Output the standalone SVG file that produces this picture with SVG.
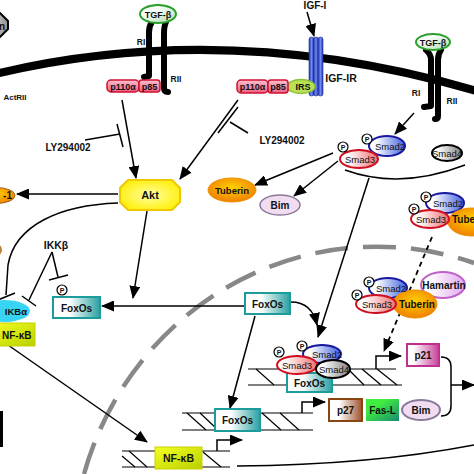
<svg xmlns="http://www.w3.org/2000/svg" width="474" height="474" viewBox="0 0 474 474">
<style>
.t{font-family:"Liberation Sans",Arial,sans-serif;font-weight:bold;text-anchor:middle;fill:#111}
.s{font-family:"Liberation Sans",Arial,sans-serif;font-weight:normal;text-anchor:middle;fill:#111;font-size:9.5px}
.ln{fill:none;stroke:#000;stroke-width:1.5}
.ar{fill:none;stroke:#000;stroke-width:1.5;marker-end:url(#ah)}
.rec{fill:none;stroke:#000;stroke-width:6;stroke-linejoin:round;stroke-linecap:round}
.dna{fill:none;stroke:#000;stroke-width:1.2}
.p{fill:#fff;stroke:#000;stroke-width:1.2}
.s2{fill:url(#gS2);stroke:#1a1aa0;stroke-width:2}
.s3{fill:url(#gS3);stroke:#d01020;stroke-width:2}
.s4{fill:url(#gS4);stroke:#000;stroke-width:2}
.fox{fill:url(#gFox);stroke:#1c9c9c;stroke-width:2}
.tub{fill:url(#gOr);stroke:#f09000;stroke-width:1}
.pk{fill:url(#gPk);stroke:#d01030;stroke-width:1.5}
</style>
<defs>
<marker id="ah" markerUnits="userSpaceOnUse" markerWidth="13" markerHeight="11" viewBox="0 0 13 11" refX="12" refY="5.5" orient="auto"><path d="M0,0 L13,5.5 L0,11 z" fill="#000"/></marker>
<linearGradient id="gS2" x1="0" y1="0" x2="1" y2="0"><stop offset="0.2" stop-color="#fff"/><stop offset="1" stop-color="#4060e0"/></linearGradient>
<linearGradient id="gS3" x1="0" y1="0" x2="1" y2="0"><stop offset="0.2" stop-color="#fff"/><stop offset="1" stop-color="#f07070"/></linearGradient>
<linearGradient id="gS4" x1="0" y1="0" x2="1" y2="0"><stop offset="0.2" stop-color="#fff"/><stop offset="1" stop-color="#808080"/></linearGradient>
<linearGradient id="gFox" x1="0" y1="0" x2="1" y2="0"><stop offset="0.35" stop-color="#fff"/><stop offset="1" stop-color="#2aa0a0"/></linearGradient>
<radialGradient id="gOr" cx="0.5" cy="0.4" r="0.6"><stop offset="0" stop-color="#ffd000"/><stop offset="1" stop-color="#f08000"/></radialGradient>
<radialGradient id="gAkt" cx="0.5" cy="0.5" r="0.6"><stop offset="0" stop-color="#ffffa0"/><stop offset="1" stop-color="#ffee00"/></radialGradient>
<linearGradient id="gNF" x1="0" y1="0" x2="1" y2="1"><stop offset="0" stop-color="#f4ff20"/><stop offset="1" stop-color="#b8d000"/></linearGradient>
<linearGradient id="gP21" x1="0" y1="0" x2="1" y2="0"><stop offset="0.2" stop-color="#fff"/><stop offset="1" stop-color="#c8409a"/></linearGradient>
<linearGradient id="gP27" x1="0" y1="0" x2="1" y2="0"><stop offset="0.3" stop-color="#fff"/><stop offset="1" stop-color="#a0522d"/></linearGradient>
<linearGradient id="gFas" x1="0" y1="0" x2="1" y2="1"><stop offset="0.3" stop-color="#40ee40"/><stop offset="1" stop-color="#1a8a70"/></linearGradient>
<linearGradient id="gHam" x1="0" y1="0" x2="1" y2="0"><stop offset="0.2" stop-color="#fff"/><stop offset="1" stop-color="#e0a8f0"/></linearGradient>
<linearGradient id="gTGF" x1="0" y1="0" x2="1" y2="1"><stop offset="0.3" stop-color="#fff"/><stop offset="1" stop-color="#a8dca8"/></linearGradient>
<linearGradient id="gIGF" x1="0" y1="0" x2="1" y2="0"><stop offset="0" stop-color="#2038b0"/><stop offset="0.5" stop-color="#7088f0"/><stop offset="1" stop-color="#2038b0"/></linearGradient>
<linearGradient id="gPk" x1="0" y1="0" x2="0" y2="1"><stop offset="0" stop-color="#fcc0d0"/><stop offset="1" stop-color="#f06080"/></linearGradient>
<linearGradient id="gHex" x1="0" y1="0" x2="1" y2="0"><stop offset="0" stop-color="#fff"/><stop offset="1" stop-color="#909090"/></linearGradient>
</defs>
<rect width="474" height="474" fill="#fff"/>

<!-- nuclear envelope -->
<path id="nucleus" d="M84,474 A305 315 0 0 1 474,263" fill="none" stroke="#888" stroke-width="4.5" stroke-dasharray="33 15"/>
<!-- plasma membrane -->
<path id="membrane" d="M-5,74 Q230,18 480,92" fill="none" stroke="#000" stroke-width="8"/>
<path d="M237,466 Q370,465 474,445" fill="none" stroke="#000" stroke-width="1.5"/>

<g id="connectors">
<line class="ar" x1="307" y1="12" x2="314" y2="36"/>
<line class="ar" x1="122" y1="100" x2="136" y2="178"/>
<line class="ln" x1="117" y1="124" x2="123" y2="147"/>
<line class="ln" x1="85" y1="140" x2="120" y2="134"/>
<line class="ar" x1="238" y1="100" x2="180" y2="179"/>
<line class="ln" x1="218" y1="133" x2="238" y2="107"/>
<line class="ln" x1="230" y1="122" x2="248" y2="133"/>
<line class="ar" x1="414" y1="113" x2="395" y2="134"/>
<path class="ln" d="M345,170 Q400,190 465,165"/>
<line class="ar" x1="333" y1="153" x2="255" y2="185"/>
<line class="ar" x1="338" y1="161" x2="294" y2="196"/>
<line class="ar" x1="369" y1="178" x2="318" y2="337"/>
<line class="ar" x1="118" y1="194" x2="17" y2="194"/>
<path class="ln" d="M118,203 C60,205 15,225 8,265 L6,295"/>
<line class="ln" x1="-2" y1="300" x2="15" y2="293"/>
<line class="ln" x1="52" y1="252" x2="58" y2="277"/>
<line class="ln" x1="49" y1="280" x2="68" y2="275"/>
<line class="ln" x1="52" y1="252" x2="29" y2="300"/>
<line class="ln" x1="22" y1="296" x2="36" y2="306"/>
<line class="ar" x1="147" y1="211" x2="133" y2="298"/>
<line class="ar" x1="245" y1="306" x2="102" y2="306"/>
<path class="ar" d="M291,302 Q312,302 317,325"/>
<line class="ar" x1="255" y1="316" x2="230" y2="408"/>
<line class="ar" x1="8" y1="345" x2="147" y2="442"/>
<line x1="432" y1="237" x2="384" y2="351" fill="none" stroke="#000" stroke-width="1.8" stroke-dasharray="5 4" marker-end="url(#ah)"/>
<!-- DNA upper -->
<line class="dna" x1="248" y1="369" x2="396" y2="369"/>
<line class="dna" x1="248" y1="385" x2="402" y2="385"/>
<line class="dna" x1="256" y1="369" x2="274" y2="385"/>
<line class="dna" x1="348" y1="369" x2="364" y2="385"/>
<line class="dna" x1="362" y1="369" x2="381" y2="385"/>
<line class="dna" x1="377" y1="369" x2="397" y2="385"/>
<path class="ar" d="M376,369 L376,356 L401,356"/>
<!-- DNA lower -->
<line class="dna" x1="182" y1="413" x2="313" y2="413"/>
<line class="dna" x1="182" y1="430" x2="313" y2="430"/>
<line class="dna" x1="187" y1="413" x2="206" y2="430"/>
<line class="dna" x1="200" y1="413" x2="218" y2="430"/>
<line class="dna" x1="262" y1="413" x2="281" y2="430"/>
<line class="dna" x1="280" y1="413" x2="299" y2="430"/>
<path class="ar" d="M302,413 L302,402 L325,402"/>
<!-- DNA NF-kB -->
<line class="dna" x1="122" y1="451" x2="230" y2="451"/>
<line class="dna" x1="122" y1="467" x2="230" y2="467"/>
<line class="dna" x1="122" y1="456" x2="135" y2="467"/>
<line class="dna" x1="129" y1="451" x2="147" y2="467"/>
<line class="dna" x1="203" y1="452" x2="221" y2="467"/>
<path class="ar" d="M217,451 L217,440 L242,440"/>
<path class="ln" d="M441,357 Q451,357 451,367 L451,406 Q451,416 441,416"/>
<line class="ar" x1="451" y1="385" x2="474" y2="385"/>
</g>

<g id="activin">
<polygon points="-20,13 0,13 8,21 8,29 0,37 -20,37" fill="url(#gHex)" stroke="#000" stroke-width="2"/>
<text class="t" x="5" y="30" font-size="10" style="text-anchor:end">n</text>
</g>
<text class="t" x="15" y="100" font-size="8">ActRII</text>

<g id="tgfb-receptor-left">
<path class="rec" d="M152,22 Q149,26 149,32 L149,76 L144,77"/>
<path class="rec" d="M166,22 Q164,26 164,34 L164,88 Q164,92 168,92"/>
<ellipse cx="158" cy="14" rx="18" ry="9" fill="url(#gTGF)" stroke="#2aa02a" stroke-width="2"/>
<text class="t" x="158" y="17.5" font-size="9">TGF-β</text>
<text class="t" x="141" y="45" font-size="8.5">RI</text>
<text class="t" x="176" y="82" font-size="8.5">RII</text>
</g>
<g id="pi3k-left">
<rect x="107" y="80" width="32" height="12" rx="4" class="pk"/>
<rect x="139" y="80" width="21" height="12" rx="3" class="pk"/>
<text class="t" x="123" y="89.5" font-size="9">p110α</text>
<text class="t" x="149.5" y="89.5" font-size="9">p85</text>
</g>
<text class="t" x="68" y="151" font-size="10">LY294002</text>

<g id="igf-receptor">
<rect x="309" y="37" width="5" height="59" rx="2.5" fill="url(#gIGF)" stroke="#1a2a90" stroke-width="0.6"/>
<rect x="313.5" y="37" width="5" height="59" rx="2.5" fill="url(#gIGF)" stroke="#1a2a90" stroke-width="0.6"/>
<rect x="318" y="37" width="5" height="59" rx="2.5" fill="url(#gIGF)" stroke="#1a2a90" stroke-width="0.6"/>
<text class="t" x="315" y="9" font-size="10">IGF-I</text>
<text class="t" x="341" y="82" font-size="10.5">IGF-IR</text>
</g>
<g id="pi3k-right">
<ellipse cx="301" cy="86.5" rx="14" ry="7" fill="#b8e050" stroke="#8cc040" stroke-width="1.5"/>
<rect x="237" y="80" width="31" height="13" rx="4" class="pk"/>
<rect x="268" y="80" width="20" height="13" rx="3" class="pk"/>
<text class="t" x="252.5" y="90" font-size="9">p110α</text>
<text class="t" x="278" y="90" font-size="9">p85</text>
<text class="t" x="303" y="90" font-size="9">IRS</text>
</g>
<text class="t" x="282" y="144" font-size="10">LY294002</text>

<g id="tgfb-receptor-right">
<path class="rec" d="M426,50 Q431,54 431,60 L431,106 L424,107"/>
<path class="rec" d="M441,50 Q438,54 438,60 L438,116 Q438,119 435,119"/>
<ellipse cx="433" cy="42" rx="17" ry="8" fill="url(#gTGF)" stroke="#2aa02a" stroke-width="2"/>
<text class="t" x="433" y="45.5" font-size="9">TGF-β</text>
<text class="t" x="416" y="96" font-size="8.5">RI</text>
<text class="t" x="452" y="104" font-size="8.5">RII</text>
</g>

<g id="smad-cyto">
<ellipse cx="387" cy="146" rx="18" ry="10" class="s2"/>
<ellipse cx="359" cy="159" rx="19" ry="9" class="s3"/>
<circle cx="343" cy="147" r="5" class="p"/>
<circle cx="367" cy="139" r="5" class="p"/>
<text class="t" x="343" y="150" font-size="7">P</text>
<text class="t" x="367" y="142" font-size="7">P</text>
<text class="s" x="390" y="149.5">Smad2</text>
<text class="s" x="360" y="162.5">Smad3</text>
</g>
<g id="smad4-cyto">
<ellipse cx="447" cy="153" rx="15" ry="8" class="s4"/>
<text class="s" x="447" y="156.5">Smad4</text>
</g>

<g id="akt">
<polygon points="128,180 172,180 180,188 180,202 172,210 128,210 120,202 120,188" fill="url(#gAkt)" stroke="#f0c800" stroke-width="2"/>
<text class="t" x="150" y="199" font-size="11">Akt</text>
</g>
<g id="tuberin">
<ellipse cx="232" cy="190" rx="24" ry="12" class="tub"/>
<text class="t" x="232" y="193.5" font-size="9.5">Tuberin</text>
</g>
<g id="bim-cyto">
<ellipse cx="280" cy="205" rx="20" ry="10" fill="#f2dcf2" stroke="#8a7a9a" stroke-width="1.5"/>
<text class="t" x="280" y="209" font-size="10">Bim</text>
</g>
<g id="mdm">
<ellipse cx="-4" cy="195.5" rx="19" ry="8" fill="url(#gOr)" stroke="#a06020" stroke-width="1"/>
<text class="t" x="12" y="199" font-size="10" style="text-anchor:end">-1</text>
</g>
<ellipse cx="-6" cy="250" rx="8" ry="7" fill="#c08030"/>

<text class="t" x="56" y="249" font-size="10.5">IKKβ</text>

<g id="ikba">
<ellipse cx="4" cy="311" rx="26" ry="11" fill="#38d4f4"/>
<text class="t" x="27" y="315" font-size="9.5" style="text-anchor:end">IKBα</text>
</g>
<g id="nfkb-cyto">
<rect x="-10" y="323" width="45" height="23" fill="url(#gNF)" stroke="#c8d000" stroke-width="1"/>
<text class="t" x="2" y="339" font-size="10" style="text-anchor:start">NF-κB</text>
</g>
<rect x="0" y="411" width="3" height="36" fill="#000"/>

<g id="foxo-left">
<rect x="53" y="297" width="47" height="21" class="fox"/>
<text class="t" x="76.5" y="311.5" font-size="10">FoxOs</text>
<circle cx="62" cy="290" r="5" class="p"/>
<text class="t" x="62" y="293" font-size="7">P</text>
</g>
<g id="foxo-center">
<rect x="245" y="293" width="45" height="21" class="fox"/>
<text class="t" x="267.5" y="307.5" font-size="10">FoxOs</text>
</g>

<g id="smad-tuberin-upper">
<ellipse cx="445" cy="203" rx="19" ry="10" class="s2"/>
<ellipse cx="472" cy="222" rx="24" ry="14" class="tub"/>
<ellipse cx="430" cy="219" rx="19" ry="9" class="s3"/>
<circle cx="414" cy="209" r="5" class="p"/>
<circle cx="426" cy="197" r="5" class="p"/>
<text class="t" x="414" y="212" font-size="7">P</text>
<text class="t" x="426" y="200" font-size="7">P</text>
<text class="s" x="448" y="206.5">Smad2</text>
<text class="s" x="431" y="222.5">Smad3</text>
<text class="t" x="452" y="223" font-size="10" style="text-anchor:start">Tube</text>
</g>

<g id="smad-tuberin-hamartin">
<ellipse cx="443" cy="285" rx="22" ry="13" fill="url(#gHam)" stroke="#c060c8" stroke-width="2"/>
<ellipse cx="388" cy="288" rx="19" ry="10" class="s2"/>
<ellipse cx="415" cy="304" rx="22" ry="14" class="tub"/>
<ellipse cx="376" cy="304" rx="20" ry="9" class="s3"/>
<circle cx="369" cy="282" r="5" class="p"/>
<circle cx="357" cy="295" r="5" class="p"/>
<text class="t" x="369" y="285" font-size="7">P</text>
<text class="t" x="357" y="298" font-size="7">P</text>
<text class="s" x="391" y="291.5">Smad2</text>
<text class="s" x="377" y="307.5">Smad3</text>
<text class="t" x="417" y="308" font-size="10">Tuberin</text>
<text class="t" x="444" y="289" font-size="10">Hamartin</text>
</g>

<g id="smad-foxo-nuclear">
<rect x="287" y="373" width="45" height="19" class="fox"/>
<text class="t" x="309.5" y="387" font-size="10">FoxOs</text>
<ellipse cx="322" cy="354" rx="19" ry="9" class="s2"/>
<ellipse cx="297" cy="365" rx="20" ry="9" class="s3"/>
<ellipse cx="333" cy="369" rx="17" ry="9" class="s4"/>
<circle cx="279" cy="352" r="5" class="p"/>
<circle cx="302" cy="346" r="5" class="p"/>
<text class="t" x="279" y="355" font-size="7">P</text>
<text class="t" x="302" y="349" font-size="7">P</text>
<text class="s" x="327" y="357.5">Smad2</text>
<text class="s" x="297" y="368.5">Smad3</text>
<text class="s" x="334" y="372.5">Smad4</text>
</g>

<g id="foxo-lower">
<rect x="215" y="409" width="45" height="22" class="fox"/>
<text class="t" x="237.5" y="424" font-size="10">FoxOs</text>
</g>
<g id="nfkb-nuclear">
<rect x="155" y="447" width="47" height="22" fill="url(#gNF)" stroke="#c8d000" stroke-width="1"/>
<text class="t" x="178.5" y="462" font-size="10.5">NF-κB</text>
</g>
<g id="p21">
<rect x="407" y="344" width="32" height="22" fill="url(#gP21)" stroke="#c03090" stroke-width="2"/>
<text class="t" x="423" y="359" font-size="10">p21</text>
</g>
<g id="p27">
<rect x="329" y="399" width="33" height="22" fill="url(#gP27)" stroke="#8b4513" stroke-width="2"/>
<text class="t" x="345.5" y="414" font-size="10">p27</text>
</g>
<g id="fasl">
<rect x="366" y="399" width="33" height="22" fill="url(#gFas)"/>
<text class="t" x="382.5" y="414" font-size="10">Fas-L</text>
</g>
<g id="bim-nuclear">
<ellipse cx="421" cy="410" rx="19" ry="10" fill="#f2dcf2" stroke="#8a7a9a" stroke-width="2"/>
<text class="t" x="421" y="414" font-size="10">Bim</text>
</g>
</svg>
